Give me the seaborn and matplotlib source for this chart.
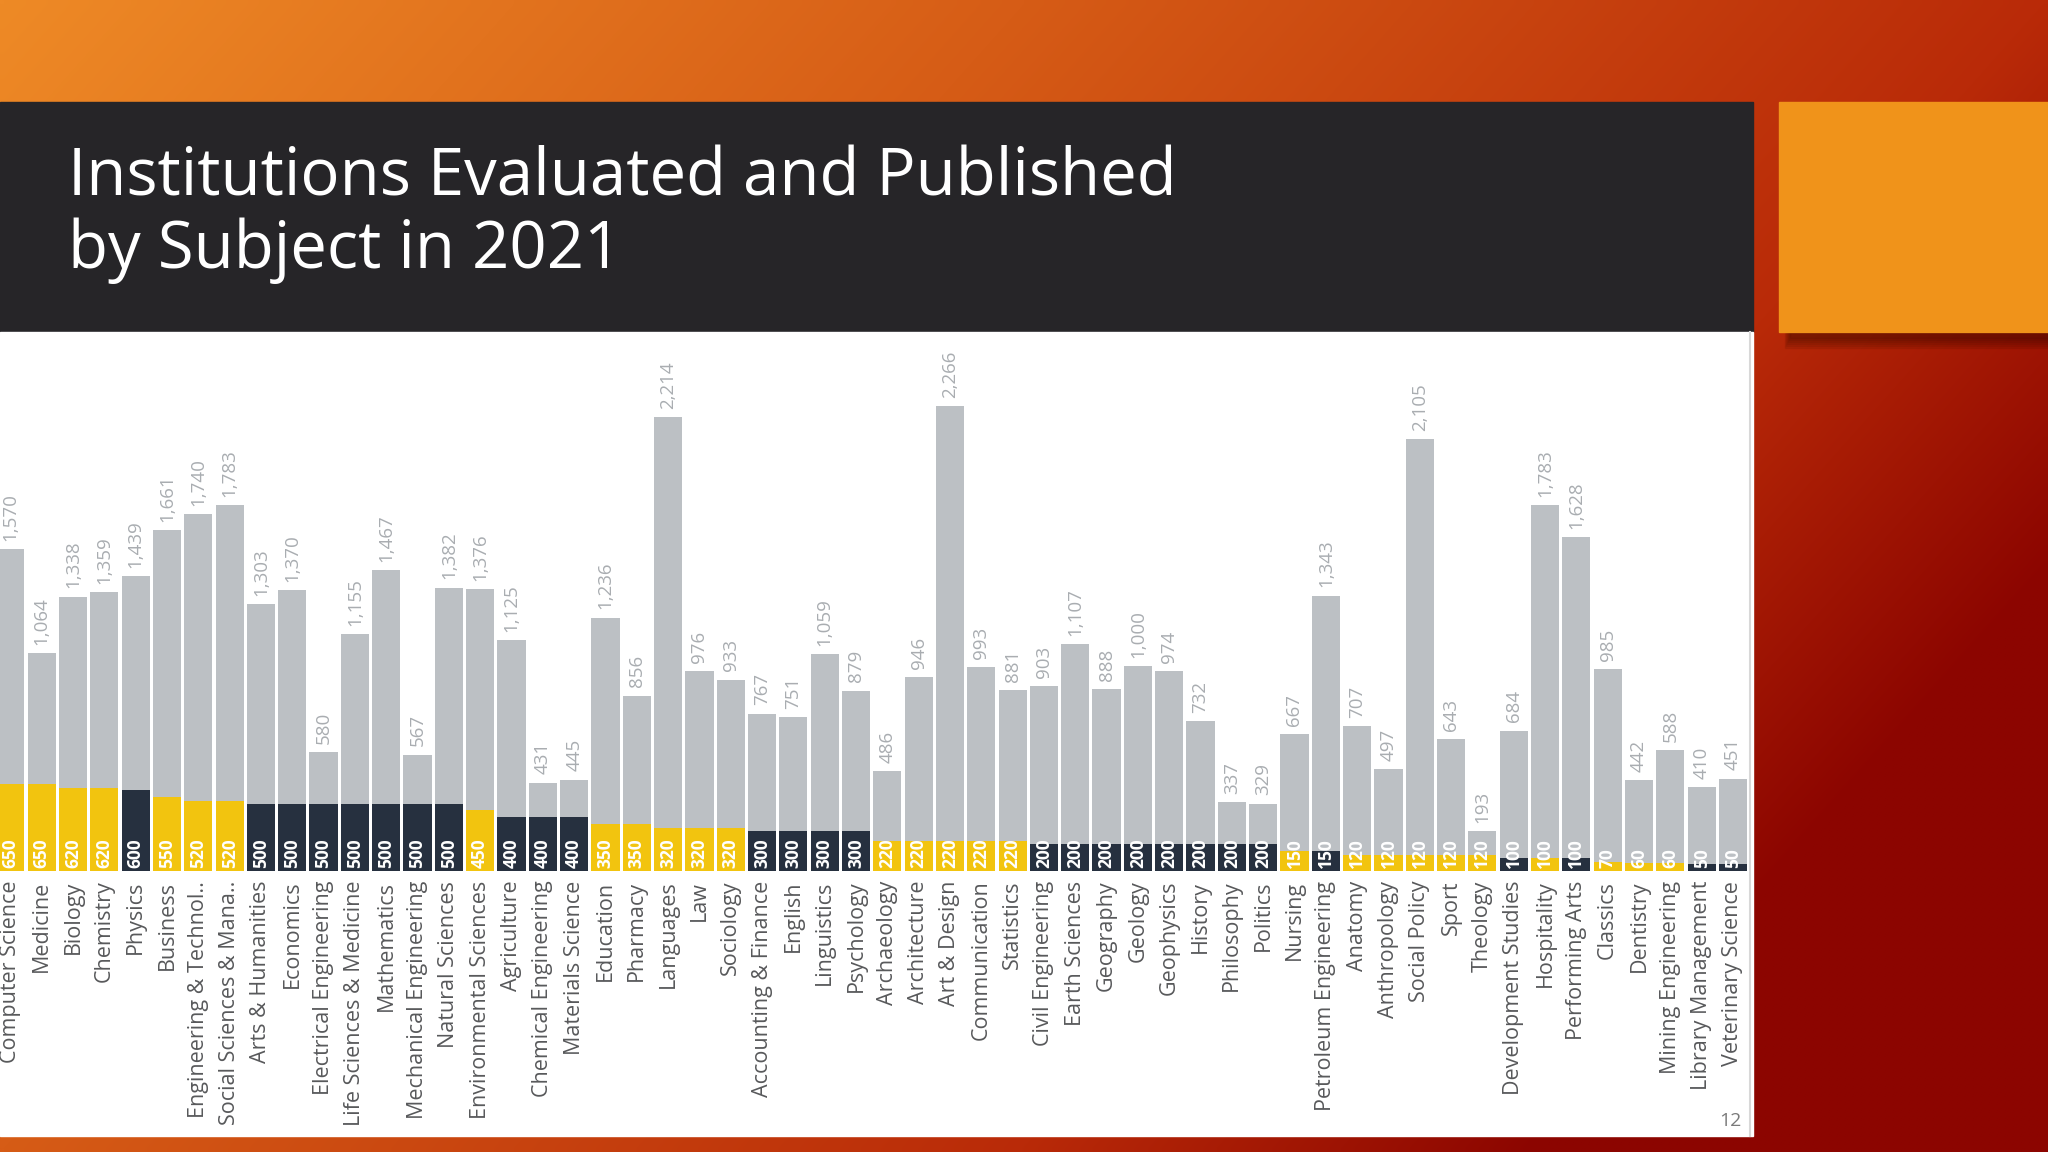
import numpy as np
import pandas as pd
import matplotlib
matplotlib.use('Agg')
import matplotlib.pyplot as plt
import seaborn as sns
from matplotlib.patches import Rectangle

# data
subjects = [
    'Computer Science', 'Medicine', 'Biology', 'Chemistry', 'Physics', 'Business',
    'Engineering & Technol..', 'Social Sciences & Mana..', 'Arts & Humanities', 'Economics',
    'Electrical Engineering', 'Life Sciences & Medicine', 'Mathematics', 'Mechanical Engineering',
    'Natural Sciences', 'Environmental Sciences', 'Agriculture', 'Chemical Engineering',
    'Materials Science', 'Education', 'Pharmacy', 'Languages', 'Law', 'Sociology',
    'Accounting & Finance', 'English', 'Linguistics', 'Psychology', 'Archaeology',
    'Architecture', 'Art & Design', 'Communication', 'Statistics', 'Civil Engineering',
    'Earth Sciences', 'Geography', 'Geology', 'Geophysics', 'History', 'Philosophy',
    'Politics', 'Nursing', 'Petroleum Engineering', 'Anatomy', 'Anthropology',
    'Social Policy', 'Sport', 'Theology', 'Development Studies', 'Hospitality',
    'Performing Arts', 'Classics', 'Dentistry', 'Mining Engineering',
    'Library Management', 'Veterinary Science',
]
evaluated = [
    1570, 1064, 1338, 1359, 1439, 1661, 1740, 1783, 1303, 1370,
    580, 1155, 1467, 567, 1382, 1376, 1125, 431, 445, 1236,
    856, 2214, 976, 933, 767, 751, 1059, 879, 486, 946,
    2266, 993, 881, 903, 1107, 888, 1000, 974, 732, 337,
    329, 667, 1343, 707, 497, 2105, 643, 193, 684, 1783,
    1628, 985, 442, 588, 410, 451,
]
published = [
    650, 650, 620, 620, 600, 550, 520, 520, 500, 500,
    500, 500, 500, 500, 500, 450, 400, 400, 400, 350,
    350, 320, 320, 320, 300, 300, 300, 300, 220, 220,
    220, 220, 220, 200, 200, 200, 200, 200, 200, 200,
    200, 150, 150, 120, 120, 120, 120, 120, 100, 100,
    100, 70, 60, 60, 50, 50,
]
band = [
    'A', 'A', 'A', 'A', 'B', 'A', 'A', 'A', 'B', 'B',
    'B', 'B', 'B', 'B', 'B', 'A', 'B', 'B', 'B', 'A',
    'A', 'A', 'A', 'A', 'B', 'B', 'B', 'B', 'A', 'A',
    'A', 'A', 'A', 'B', 'B', 'B', 'B', 'B', 'B', 'B',
    'B', 'A', 'B', 'A', 'A', 'A', 'A', 'A', 'B', 'A',
    'B', 'A', 'A', 'A', 'B', 'B',
]

df = pd.DataFrame({'subject': subjects, 'evaluated': evaluated,
                   'published': published, 'band': band})

GREY = '#bcc0c4'
YELLOW = '#f2c40f'
NAVY = '#26303f'

plt.rcParams['font.family'] = ['Open Sans', 'DejaVu Sans']

W, H = 2048, 1152
fig = plt.figure(figsize=(W / 100, H / 100), dpi=100)

# slide background, pixel coordinates
bg = fig.add_axes([0, 0, 1, 1])
bg.set_xlim(0, W)
bg.set_ylim(H, 0)
bg.axis('off')
gx, gy = np.meshgrid(np.linspace(0, 1, 256), np.linspace(0, 1, 144))
t = np.clip(0.8 * gx + 0.4 * gy, 0, 1)
stops = np.array([[238, 138, 38], [214, 92, 22], [185, 42, 8], [140, 5, 0]]) / 255
img = np.stack([np.interp(t, [0, 0.4, 0.8, 1.0], stops[:, k]) for k in range(3)], axis=-1)
bg.imshow(img, extent=[0, W, H, 0], aspect='auto', interpolation='bilinear', zorder=0)

bg.add_patch(Rectangle((0, 102), 1753, 230, color='#262528', zorder=2))
for k in range(6):
    bg.add_patch(Rectangle((1785 + k, 332), 263, 16 - 2 * k, color='black', alpha=0.06, zorder=2))
bg.add_patch(Rectangle((1779, 102), 269, 230, color='#f0931a', zorder=3))
bg.add_patch(Rectangle((0, 332), 1753, 804, color='white', zorder=2))
bg.plot([1750, 1750], [332, 1136], color='#d8d8d8', lw=1.5, zorder=3)

bg.text(68, 196, 'Institutions Evaluated and Published', color='white', fontsize=47,
        va='baseline', ha='left', zorder=4)
bg.text(68, 268, 'by Subject in 2021', color='white', fontsize=47,
        va='baseline', ha='left', zorder=4)
bg.text(1742, 1130, '12', color='#7a7a7a', fontsize=14, ha='right', va='bottom', zorder=4)

# chart
ax = fig.add_axes([0, 1 - 871 / H, 1753 / W, (871 - 332) / H])
ax.set_facecolor('none')
sns.barplot(data=df, x='subject', y='evaluated', order=subjects, color=GREY,
            saturation=1, width=0.9, linewidth=0, ax=ax)
ax.bar_label(ax.containers[0], labels=[f'{v:,}' for v in evaluated], rotation=90,
             padding=6, fontsize=13.5, color='#a9adb1')

ax2 = ax.twinx()
sns.barplot(data=df, x='subject', y='published', order=subjects, hue='band',
            palette={'A': YELLOW, 'B': NAVY}, dodge=False, saturation=1, width=0.9,
            linewidth=0, legend=False, ax=ax2)
for i, v in enumerate(published):
    ax2.annotate(f'{v}', xy=(i, 0), xytext=(0, 2), textcoords='offset points',
                 rotation=90, ha='center', va='bottom', color='white',
                 fontsize=12.5, fontweight='bold')

ax.set_ylim(0, 2629)
ax2.set_ylim(0, 4007)
ax.set_xlim(-0.332, 55.64)
ax.set_xticks(range(len(subjects)))
ax.set_xticklabels(subjects, rotation=90)
ax.tick_params(axis='x', length=0, pad=7, labelsize=15.5, labelcolor='#58595b')
for a in (ax, ax2):
    a.set_yticks([])
    a.set_xlabel('')
    a.set_ylabel('')
    for s in a.spines.values():
        s.set_visible(False)

fig.savefig('out.png', dpi=100)
